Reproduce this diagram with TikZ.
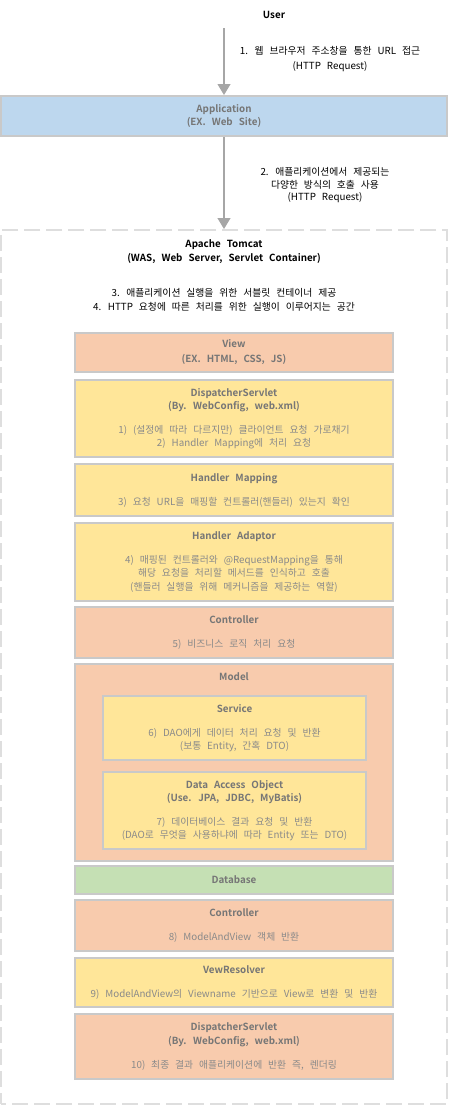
\documentclass[tikz,border=0pt]{standalone}
\usepackage{fontspec}
\setmainfont{Noto Sans CJK KR}[BoldFont={Noto Sans CJK KR Bold}, WordSpace=2.7]
\usetikzlibrary{arrows.meta}
\definecolor{bordergray}{HTML}{C9C9C9}
\definecolor{dashgray}{HTML}{DEDEDE}
\definecolor{arrowgray}{HTML}{A6A6A6}
\definecolor{titlegray}{HTML}{767676}
\definecolor{bodygray}{HTML}{8A8A8A}
\definecolor{salmon}{HTML}{F8CBAD}
\definecolor{lemon}{HTML}{FFE699}
\definecolor{skyblue}{HTML}{BDD7EE}
\definecolor{mint}{HTML}{C5E0B4}
\newcommand{\ttl}[1]{{\bfseries\color{titlegray}#1}}
\newcommand{\bdy}[1]{{\color{bodygray}#1}}
\begin{document}
\begin{tikzpicture}[x=1pt,y=-1pt,
  txt/.style={font=\fontsize{9.8}{13.5}\selectfont, align=center, inner sep=0pt},
  box/.style={txt, draw=bordergray, line width=2pt, minimum width=318pt},
  flow/.style={draw=arrowgray, line width=1.2pt, -{Triangle[width=13pt,length=11pt]}},
  dashbox/.style={draw=dashgray, line width=2pt, dash pattern=on 16pt off 6pt, dash phase=11pt}
]
\useasboundingbox (0,0) rectangle (448,1106);

% top
\node[txt, font=\fontsize{9.8}{13.5}\selectfont\bfseries] (user) at (274,15) {User};
\coordinate (a1s) at (224,28);
\node[box, fill=skyblue, minimum width=446pt, minimum height=40pt] (app) at (224,116)
  {\ttl{Application}\\ \ttl{(EX. Web Site)}};
\node[txt] (l1) at (330,59.5) {1. 웹 브라우저 주소창을 통한 URL 접근\\[1.5pt](HTTP Request)};
\node[txt] (l2) at (325,185) {2. 애플리케이션에서 제공되는\\다양한 방식의 호출 사용\\[-1.5pt](HTTP Request)};

% tomcat
\node[dashbox, minimum width=446pt, minimum height=874pt, inner sep=0pt] (tomcat) at (224,667) {};
\node[txt, font=\fontsize{9.8}{13.5}\selectfont\bfseries] (tc) at (224,251.5) {Apache Tomcat\\(WAS, Web Server, Servlet Container)};
\node[txt] (tcd) at (224,300) {3. 애플리케이션 실행을 위한 서블릿 컨테이너 제공\\4. HTTP 요청에 따른 처리를 위한 실행이 이루어지는 공간};

\draw[flow] (a1s) -- (app.north);
\draw[flow] (app.south) -- (tomcat.north);

% inner boxes
\node[box, fill=salmon, minimum height=39pt] (view) at (234,352.5)
  {\ttl{View}\\[1.5pt] \ttl{(EX. HTML, CSS, JS)}};
\node[box, fill=lemon, minimum height=77pt] (disp1) at (234,418.5)
  {\ttl{DispatcherServlet}\\ \ttl{(By. WebConfig, web.xml)}\\[10pt]
   \bdy{1) (설정에 따라 다르지만) 클라이언트 요청 가로채기}\\ \bdy{2) Handler Mapping에 처리 요청}};
\node[box, fill=lemon, minimum height=52pt] (hmap) at (234,490)
  {\ttl{Handler Mapping}\\[10.5pt] \bdy{3) 요청 URL을 매핑할 컨트롤러(핸들러) 있는지 확인}};
\node[box, fill=lemon, minimum height=78pt] (hadapt) at (234,562)
  {\ttl{Handler Adaptor}\\[10.5pt] \bdy{4) 매핑된 컨트롤러와 @RequestMapping을 통해}\\ \bdy{해당 요청을 처리할 메서드를 인식하고 호출}\\ \bdy{(핸들러 실행을 위해 메커니즘을 제공하는 역할)}};
\node[box, fill=salmon, minimum height=51pt] (ctrl1) at (234,632.5)
  {\ttl{Controller}\\[10.5pt] \bdy{5) 비즈니스 로직 처리 요청}};
\node[box, fill=salmon, minimum height=197pt] (model) at (234,762.5) {};
\node[txt] (modelt) at (234,677) {\ttl{Model}};
\node[box, fill=lemon, minimum width=263pt, minimum height=64pt] (service) at (234.5,728)
  {\ttl{Service}\\[10.5pt] \bdy{6) DAO에게 데이터 처리 요청 및 반환}\\ \bdy{(보통 Entity, 간혹 DTO)}};
\node[box, fill=lemon, minimum width=263pt, minimum height=77pt] (dao) at (234.5,810.5)
  {\ttl{Data Access Object}\\ \ttl{(Use. JPA, JDBC, MyBatis)}\\[10pt]
   \bdy{7) 데이터베이스 결과 요청 및 반환}\\ \bdy{(DAO로 무엇을 사용하냐에 따라 Entity 또는 DTO)}};
\node[box, fill=mint, minimum height=28pt] (db) at (234,880) {\ttl{Database}};
\node[box, fill=salmon, minimum height=51pt] (ctrl2) at (234,925.5)
  {\ttl{Controller}\\[10.5pt] \bdy{8) ModelAndView 객체 반환}};
\node[box, fill=lemon, minimum height=49pt] (vres) at (234,982.5)
  {\ttl{VewResolver}\\[10.5pt] \bdy{9) ModelAndView의 Viewname 기반으로 View로 변환 및 반환}};
\node[box, fill=salmon, minimum height=65pt] (disp2) at (234,1046.5)
  {\ttl{DispatcherServlet}\\ \ttl{(By. WebConfig, web.xml)}\\[10.5pt] \bdy{10) 최종 결과 애플리케이션에 반환 즉, 렌더링}};
\end{tikzpicture}
\end{document}
